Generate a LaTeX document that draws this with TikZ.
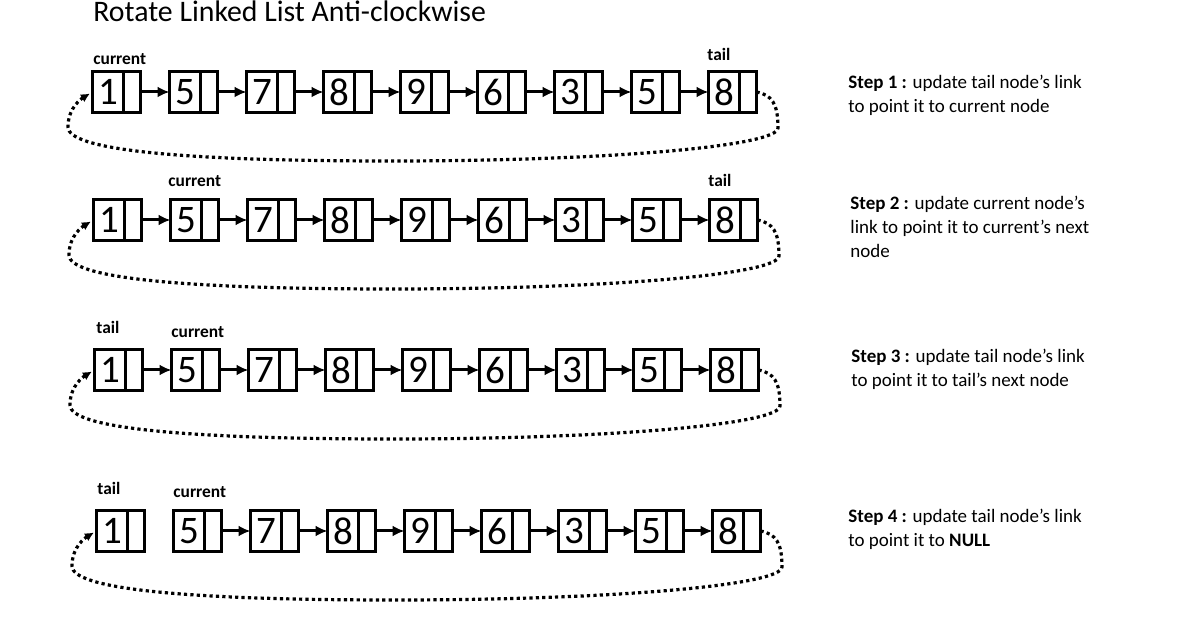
\documentclass[tikz,border=0pt]{standalone}
\usepackage{fontspec}
\setmainfont{Carlito}
\usetikzlibrary{positioning}
\usetikzlibrary{arrows.meta}

\begin{document}
\begin{tikzpicture}[x=0.5pt, y=-0.5pt,
    data/.style={draw, line width=1.5pt, minimum width=15.5pt, minimum height=20.5pt, inner sep=0pt, outer sep=0pt, font=\fontsize{19.5}{19.5}\selectfont},
    ptr/.style={draw, line width=1.5pt, minimum width=8.5pt, minimum height=20.5pt, inner sep=0pt, outer sep=0pt},
    link/.style={-{Latex[length=6pt,width=5.5pt]}, line width=1.5pt},
    wrap/.style={-{Latex[length=4.5pt,width=4.5pt]}, line width=1.6pt, dash pattern=on 1.6pt off 1.6pt, shorten >=1.5pt},
    tag/.style={anchor=base west, inner sep=0pt, font=\fontsize{8.7}{9}\selectfont\bfseries},
    steptext/.style={anchor=base west, align=left, inner sep=0pt, font=\fontsize{9.5}{12}\selectfont}]
		\useasboundingbox (0,0) rectangle (1200,630);
		% title
		\node[anchor=base west, inner sep=0pt, font=\fontsize{14.9}{17}\selectfont] (title) at (93,22) {Rotate Linked List Anti-clockwise};
		% draw the four lists
		\foreach \r/\xo/\yo in {1/91/70, 2/92/198, 3/93/348, 4/95/509} {
			\foreach \v [count=\i] in {1,5,7,8,9,6,3,5,8} {
				\node[data] (d\r-\i) at ({\xo+(\i-1)*77+17}, \yo+22) {\v};
				\node[ptr, right=0pt of d\r-\i] (p\r-\i) {};
			}
			% links between the nodes
			\foreach \i in {1,...,8} {
				\pgfmathtruncatemacro{\j}{\i+1}
				\ifnum\r\i=41 \else
					\draw[link] (p\r-\i.east) -- (d\r-\j.west);
				\fi
			}
			% link from tail back to the head
			\draw[wrap] (p\r-9.east) .. controls +(15,3) and +(0,-25) .. (\xo+687,\yo+58)
				.. controls +(0,18) and +(220,0) .. (\xo+300,\yo+91)
				.. controls +(-220,0) and +(0,22) .. (\xo-23,\yo+57)
				.. controls +(0,-20) and +(-10,6) .. (d\r-1.west);
		}
		% add labels
		\node[tag] (cur1) at (93,65) {current};
		\node[tag] (tail1) at (707,61) {tail};
		\node[tag] (cur2) at (168,187) {current};
		\node[tag] (tail2) at (708,187) {tail};
		\node[tag] (tail3) at (96,334) {tail};
		\node[tag] (cur3) at (171,338) {current};
		\node[tag] (tail4) at (97,495) {tail};
		\node[tag] (cur4) at (173,498) {current};
		% steps
		\node[steptext] (s1) at (848,113) {\textbf{Step 1 :} update tail node's link\\to point it to current node};
		\node[steptext] (s2) at (850,258) {\textbf{Step 2 :} update current node's\\link to point it to current's next\\node};
		\node[steptext] (s3) at (851,387) {\textbf{Step 3 :} update tail node's link\\to point it to tail's next node};
		\node[steptext] (s4) at (848,546) {\textbf{Step 4 :} update tail node's link\\to point it to \textbf{NULL}};
	\end{tikzpicture}
\end{document}
